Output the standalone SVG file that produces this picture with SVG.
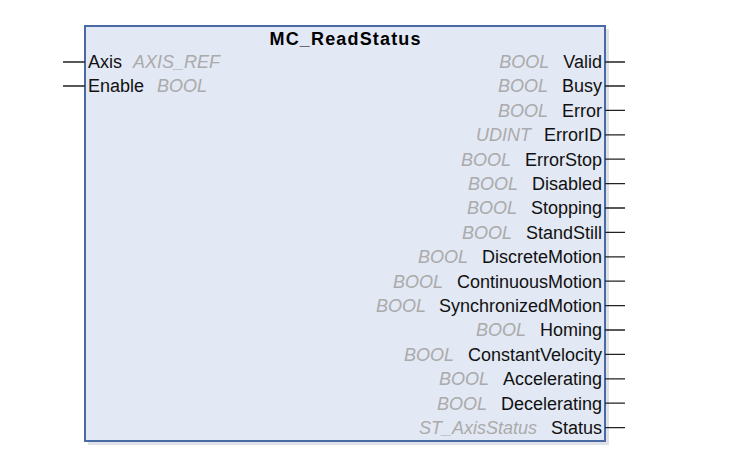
<svg xmlns="http://www.w3.org/2000/svg" width="743" height="458" viewBox="0 0 743 458">
<style>
text{font-family:"Liberation Sans",Arial,sans-serif;font-size:18px;fill:#111}
.o{text-anchor:end}
.t{font-style:italic;fill:#ababab}
.title{font-weight:bold;font-size:18px;text-anchor:middle;fill:#000}
.pin{stroke:#222;stroke-width:1.3;fill:none}
</style>
<rect width="743" height="458" fill="#fff"/>
<g id="block">
<rect x="88" y="29" width="521" height="416" fill="#c8cdd6" opacity="0.6"/>
<rect x="85" y="26" width="520" height="415" fill="#e2e8f4" stroke="#4a6aa3" stroke-width="2"/>
<text class="title" x="345" y="45" textLength="151">MC_ReadStatus</text>
</g>
<g id="connectors">
<path class="pin" d="M63 62H85M63 86H85M605 62H625M605 86H625M605 110.4H625M605 134.8H625M605 159.2H625M605 183.6H625M605 208H625M605 232.4H625M605 256.8H625M605 281.2H625M605 305.6H625M605 330H625M605 354.4H625M605 378.8H625M605 403.2H625M605 427.6H625"/>
</g>
<g id="inputs">
<text x="88" y="68">Axis<tspan class="t" dx="11">AXIS_REF</tspan></text>
<text x="88" y="92">Enable<tspan class="t" dx="13">BOOL</tspan></text>
</g>
<g id="outputs">
<text class="o" x="602" y="68"><tspan class="t">BOOL</tspan><tspan dx="14">Valid</tspan></text>
<text class="o" x="602" y="92.4"><tspan class="t">BOOL</tspan><tspan dx="14">Busy</tspan></text>
<text class="o" x="602" y="116.8"><tspan class="t">BOOL</tspan><tspan dx="14">Error</tspan></text>
<text class="o" x="602" y="141.2"><tspan class="t">UDINT</tspan><tspan dx="13">ErrorID</tspan></text>
<text class="o" x="602" y="165.6"><tspan class="t">BOOL</tspan><tspan dx="14">ErrorStop</tspan></text>
<text class="o" x="602" y="190"><tspan class="t">BOOL</tspan><tspan dx="14">Disabled</tspan></text>
<text class="o" x="602" y="214.4"><tspan class="t">BOOL</tspan><tspan dx="14">Stopping</tspan></text>
<text class="o" x="602" y="238.8"><tspan class="t">BOOL</tspan><tspan dx="14">StandStill</tspan></text>
<text class="o" x="602" y="263.2"><tspan class="t">BOOL</tspan><tspan dx="14">DiscreteMotion</tspan></text>
<text class="o" x="602" y="287.6"><tspan class="t">BOOL</tspan><tspan dx="14">ContinuousMotion</tspan></text>
<text class="o" x="602" y="312"><tspan class="t">BOOL</tspan><tspan dx="13">SynchronizedMotion</tspan></text>
<text class="o" x="602" y="336.4"><tspan class="t">BOOL</tspan><tspan dx="14">Homing</tspan></text>
<text class="o" x="602" y="360.8"><tspan class="t">BOOL</tspan><tspan dx="14">ConstantVelocity</tspan></text>
<text class="o" x="602" y="385.2"><tspan class="t">BOOL</tspan><tspan dx="14">Accelerating</tspan></text>
<text class="o" x="602" y="409.6"><tspan class="t">BOOL</tspan><tspan dx="14">Decelerating</tspan></text>
<text class="o" x="602" y="434"><tspan class="t">ST_AxisStatus</tspan><tspan dx="14">Status</tspan></text>
</g>
</svg>
